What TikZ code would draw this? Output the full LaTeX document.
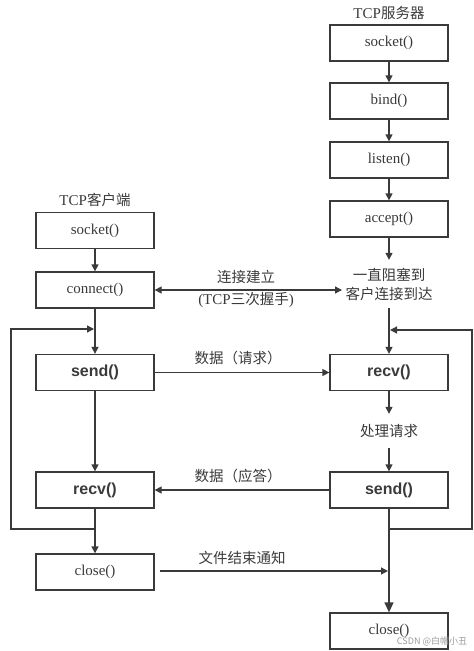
\documentclass[tikz,border=0pt]{standalone}
\usepackage{fontspec}
\setmainfont{Liberation Serif}
\setsansfont{Liberation Sans}
\newfontfamily\cjk{Noto Sans CJK SC}
\usetikzlibrary{arrows.meta}
\definecolor{ink}{HTML}{3A3A3A}
\definecolor{wm}{HTML}{9A9A9A}
\begin{document}
\begin{tikzpicture}[x=1pt,y=-1pt,
  box/.style={draw=ink, line width=1.3pt, minimum width=118pt, minimum height=36pt, inner sep=0pt, text=ink, font=\fontsize{15}{17}\selectfont},
  bbox/.style={box, font=\fontsize{16}{18}\selectfont\sffamily\bfseries},
  lbl/.style={text=ink, inner sep=0pt, font=\fontsize{14.5}{19}\selectfont\cjk, align=center},
  ttl/.style={text=ink, inner sep=0pt, font=\fontsize{15}{17}\selectfont},
  ln/.style={draw=ink, line width=1.3pt},
  arr/.style={ln, -{Triangle[length=7pt,width=7pt]}},
  barr/.style={ln, -{Triangle[length=10pt,width=9pt]}},
  darr/.style={ln, {Triangle[length=7pt,width=7pt]}-{Triangle[length=7pt,width=7pt]}}]
\useasboundingbox (0,0) rectangle (474,651);

% server column
\node[ttl] (stitle) at (389,13) {TCP{\cjk\fontsize{14.5}{17}\selectfont 服务器}};
\node[box] (ssock) at (389,43) {socket()};
\node[box] (sbind) at (389,101) {bind()};
\node[box] (slisten) at (389,160) {listen()};
\node[box] (saccept) at (389,219) {accept()};
\node[lbl, minimum height=48pt] (sblock) at (389,284) {一直阻塞到\\客户连接到达};
\node[bbox] (srecv) at (389,372.5) {recv()};
\node[lbl, minimum height=34pt] (proc) at (389,431) {处理请求};
\node[bbox] (ssend) at (389,490) {send()};
\node[box] (sclose) at (389,631) {close()};

% client column
\node[ttl] (ctitle) at (95,200) {TCP{\cjk\fontsize{14.5}{17}\selectfont 客户端}};
\node[box] (csock) at (95,230.5) {socket()};
\node[box] (cconn) at (95,290) {connect()};
\node[bbox] (csend) at (95,372.5) {send()};
\node[bbox] (crecv) at (95,490) {recv()};
\node[box] (cclose) at (95,572) {close()};

% vertical server arrows
\draw[arr] (ssock) -- (sbind);
\draw[arr] (sbind) -- (slisten);
\draw[arr] (slisten) -- (saccept);
\draw[arr] (saccept.south) -- (sblock.north);
\draw[arr] (sblock.south) -- (srecv.north);
\draw[arr] (srecv.south) -- (proc.north);
\draw[arr] (proc.south) -- (ssend.north);
\draw[barr] (ssend.south) -- (sclose.north);

% vertical client arrows
\draw[arr] (csock) -- (cconn);
\draw[arr] (cconn) -- (csend);
\draw[arr] (csend) -- (crecv);
\draw[arr] (crecv) -- (cclose);

% client loop
\coordinate (cJb) at (95,529);
\coordinate (cLb) at (11,529);
\coordinate (cLt) at (11,329);
\coordinate (cJt) at (94,329);
\draw[arr] (cJb) -- (cLb) -- (cLt) -- (cJt);

% server loop
\coordinate (sJb) at (389,529);
\coordinate (sRb) at (472,529);
\coordinate (sRt) at (472,330);
\coordinate (sJt) at (390,330);
\draw[arr] (sJb) -- (sRb) -- (sRt) -- (sJt);

% horizontal messages
\coordinate (connEnd) at (342,290);
\draw[darr] (cconn.east) -- (connEnd);
\node[lbl] (l1) at (246,277) {连接建立};
\node[ttl] (l2) at (246,300) {(TCP{\cjk\fontsize{14.5}{17}\selectfont 三次握手})};

\draw[arr] (csend.east) -- (srecv.west);
\node[lbl] (l3) at (238,358) {数据（请求）};

\draw[arr] (ssend.west) -- (crecv.east);
\node[lbl] (l4) at (238,476) {数据（应答）};

\coordinate (closeS) at (160,571);
\coordinate (closeE) at (388,571);
\draw[arr] (closeS) -- (closeE);
\node[lbl] (l5) at (242,558) {文件结束通知};

% watermark
\node[text=wm, inner sep=0pt, font=\fontsize{9}{10}\selectfont\cjk] (wmark) at (432,641) {CSDN @白帽小丑};
\end{tikzpicture}
\end{document}
